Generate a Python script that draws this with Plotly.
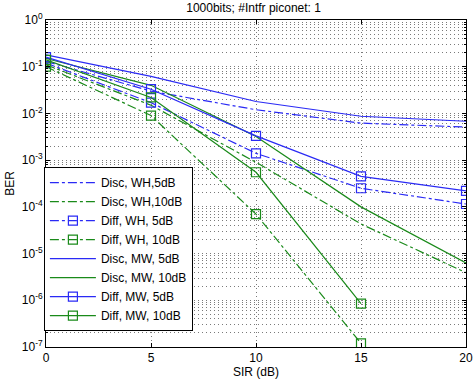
import plotly.graph_objects as go

sir = [0, 5, 10, 15, 20]

disc_wh_5 = [0.13, 0.030, 0.012, 0.0062, 0.0051]
disc_wh_10 = [0.11, 0.015, 9.0e-4, 4.3e-5, 3.9e-6]
diff_wh_5 = [0.12, 0.017, 1.4e-3, 2.5e-4, 1.15e-4]
diff_wh_10 = [0.10, 0.009, 7.0e-5, 1.2e-7, None]
disc_mw_5 = [0.18, 0.062, 0.018, 0.0087, 0.0068]
disc_mw_10 = [0.15, 0.040, 3.2e-3, 1.0e-4, 6.3e-6]
diff_mw_5 = [0.16, 0.033, 3.3e-3, 4.5e-4, 2.2e-4]
diff_mw_10 = [0.14, 0.022, 5.5e-4, 8.5e-7, None]

ytick_vals = [1, 1e-1, 1e-2, 1e-3, 1e-4, 1e-5, 1e-6, 1e-7]
ytick_text = ["10<sup>0</sup>", "10<sup>-1</sup>", "10<sup>-2</sup>", "10<sup>-3</sup>",
              "10<sup>-4</sup>", "10<sup>-5</sup>", "10<sup>-6</sup>", "10<sup>-7</sup>"]
xtick_vals = [0, 5, 10, 15, 20]

BLUE = "#2a2af5"
GREEN = "#1a8a1a"

series = [
    ("Disc, WH,5dB", disc_wh_5, BLUE, "dashdot", False),
    ("Disc, WH,10dB", disc_wh_10, GREEN, "dashdot", False),
    ("Diff, WH, 5dB", diff_wh_5, BLUE, "dashdot", True),
    ("Diff, WH, 10dB", diff_wh_10, GREEN, "dashdot", True),
    ("Disc, MW, 5dB", disc_mw_5, BLUE, "solid", False),
    ("Disc, MW, 10dB", disc_mw_10, GREEN, "solid", False),
    ("Diff, MW, 5dB", diff_mw_5, BLUE, "solid", True),
    ("Diff, MW, 10dB", diff_mw_10, GREEN, "solid", True),
]

fig = go.Figure()
for name, vals, col, dash, mk in series:
    fig.add_trace(go.Scatter(
        x=sir, y=vals, name=name,
        mode="lines+markers" if mk else "lines",
        line=dict(color=col, width=1.2, dash=dash),
        marker=dict(symbol="square-open", size=9, color=col, line=dict(width=1.2, color=col)),
        connectgaps=False,
    ))

GRID_DASH = "1px,3px"
GRID_COL = "#7a7a7a"

font = "Liberation Sans, Arial, Helvetica, sans-serif"
fig.update_layout(
    width=474, height=383,
    margin=dict(l=46, r=8, t=20, b=36),
    paper_bgcolor="white", plot_bgcolor="white",
    font=dict(family=font, size=12, color="black"),
    title=dict(text="1000bits; #Intfr piconet: 1", x=0.535, xanchor="center",
               y=0.99, yanchor="top", font=dict(size=12)),
    showlegend=True,
    legend=dict(x=-0.005, y=0.55, xanchor="left", yanchor="top",
                bgcolor="white", bordercolor="black", borderwidth=1,
                font=dict(size=12), tracegroupgap=0, itemwidth=46),
)
fig.update_xaxes(
    range=[0, 20], tickvals=xtick_vals, title=dict(text="SIR (dB)", standoff=2, font=dict(size=12)),
    showline=True, linecolor="black", linewidth=1, mirror="ticks",
    ticks="inside", ticklen=4, tickcolor="black",
    showgrid=True, gridcolor=GRID_COL, griddash=GRID_DASH, gridwidth=1,
    zeroline=False, tickfont=dict(size=12), automargin=False,
)
fig.update_yaxes(
    type="log", range=[-7, 0], tickvals=ytick_vals, ticktext=ytick_text,
    title=dict(text="BER", standoff=4, font=dict(size=12)),
    showline=True, linecolor="black", linewidth=1, mirror="ticks",
    ticks="inside", ticklen=4, tickcolor="black",
    showgrid=True, gridcolor=GRID_COL, griddash=GRID_DASH, gridwidth=1,
    minor=dict(showgrid=True, gridcolor=GRID_COL, griddash=GRID_DASH, gridwidth=1,
               ticks="inside", ticklen=2, tickcolor="black", dtick="D1"),
    zeroline=False, tickfont=dict(size=12), automargin=False,
)
fig.write_html("out.html", config={"displayModeBar": False},
               post_script="document.body.style.margin='0';")
